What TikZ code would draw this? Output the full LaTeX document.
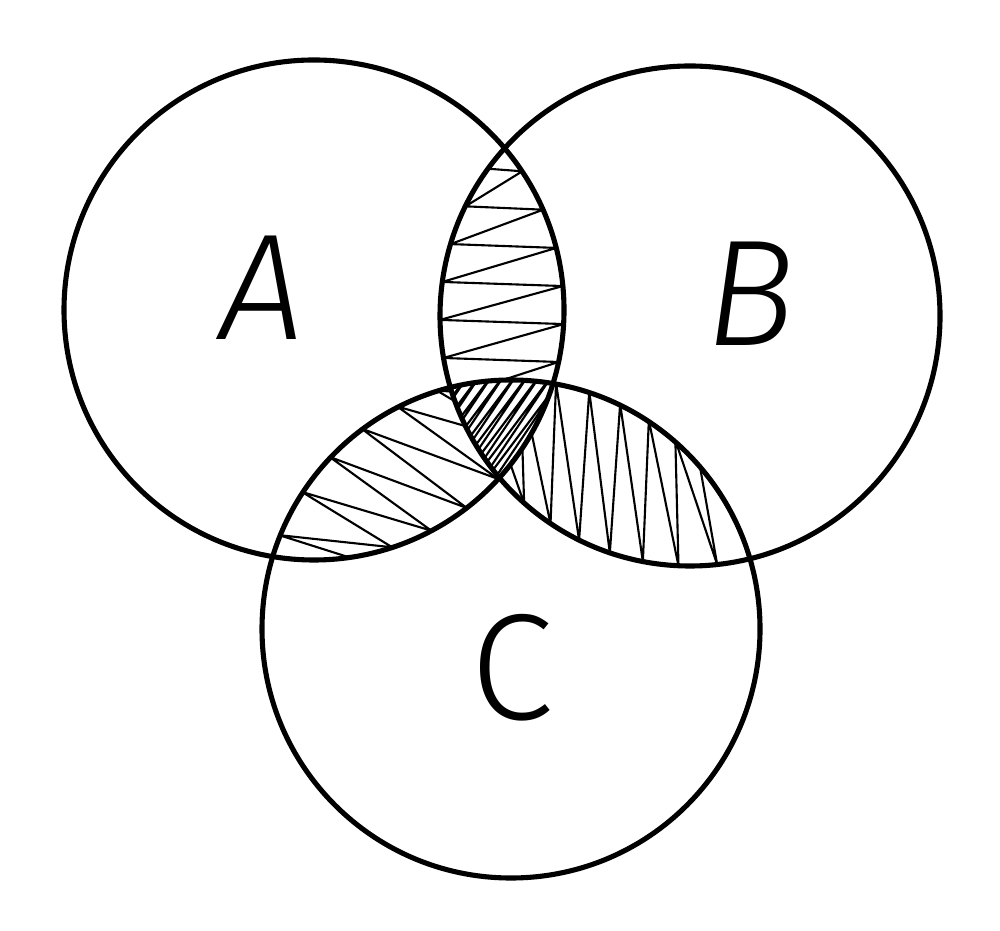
\documentclass[tikz,border=0pt]{standalone}
\usepackage{fontspec}
\setsansfont{Fira Sans Light}[ItalicFont={Fira Sans Light Italic}]
\begin{document}
\begin{tikzpicture}[
    ring/.style={line width=1.45pt},
    hatch/.style={line width=0.6pt, line join=round},
    letter/.style={font=\sffamily\fontsize{43}{43}\selectfont},
    declare function={lw(\t,\h)=sqrt(6.25-\t*\t)-\h;}
  ]
  \useasboundingbox (0,0) rectangle (10,9.3);

  % circle centres
  \coordinate (A) at (3.14,6.20);
  \coordinate (B) at (6.90,6.14);
  \coordinate (C) at (5.11,3.01);

  % hatching A and B
  \begin{scope}
    \clip (A) circle (2.5);
    \clip (B) circle (2.5);
    \begin{scope}[shift={(5.02,6.17)}, rotate=89]
      \draw[hatch] (-1.6,{lw(-1.6,1.88)})
        \foreach \k in {0,...,8} { -- ({-1.6+0.38*\k+0.36},{-lw(-1.6+0.38*\k+0.36,1.88)})
                                   -- ({-1.6+0.38*\k+0.38},{lw(-1.6+0.38*\k+0.38,1.88)}) };
    \end{scope}
  \end{scope}

  % hatching A and C
  \begin{scope}
    \clip (A) circle (2.5);
    \clip (C) circle (2.5);
    \begin{scope}[shift={(4.125,4.605)}, rotate=31.6]
      \draw[hatch] (-1.9,{lw(-1.9,1.875)})
        \foreach \k in {0,...,8} { -- ({-1.9+0.42*\k+0.9},{-lw(-1.9+0.42*\k+0.9,1.875)})
                                   -- ({-1.9+0.42*\k+0.42},{lw(-1.9+0.42*\k+0.42,1.875)}) };
    \end{scope}
  \end{scope}

  % hatching B and C
  \begin{scope}
    \clip (B) circle (2.5);
    \clip (C) circle (2.5);
    \begin{scope}[shift={(6.005,4.575)}, rotate=-29.7]
      \draw[hatch] (-1.5,{-lw(-1.5,1.80)})
        \foreach \k in {0,...,10} { -- ({-1.5+0.33*\k-0.65},{lw(-1.5+0.33*\k-0.65,1.80)})
                                    -- ({-1.5+0.33*\k+0.33},{-lw(-1.5+0.33*\k+0.33,1.80)}) };
    \end{scope}
  \end{scope}

  % hatching A, B and C
  \begin{scope}
    \clip (A) circle (2.5);
    \clip (B) circle (2.5);
    \clip (C) circle (2.5);
    \fill[white] (3,3) rectangle (7,7);
    \draw[hatch] (3.4,4.0) \foreach \k in {0,...,20} { -- (3.4+0.12*\k+1.2,5.6) -- (3.4+0.12*\k+0.12,4.0) };
  \end{scope}

  % circles
  \draw[ring] (A) circle (2.5);
  \draw[ring] (B) circle (2.5);
  \draw[ring] (C) circle (2.49);

  % labels
  \node[letter] (labA) at (2.62,6.42) {\itshape A};
  \node[letter] (labB) at (7.50,6.36) {\itshape B};
  \node[letter] (labC) at (5.12,2.62) {C};

\end{tikzpicture}
\end{document}
